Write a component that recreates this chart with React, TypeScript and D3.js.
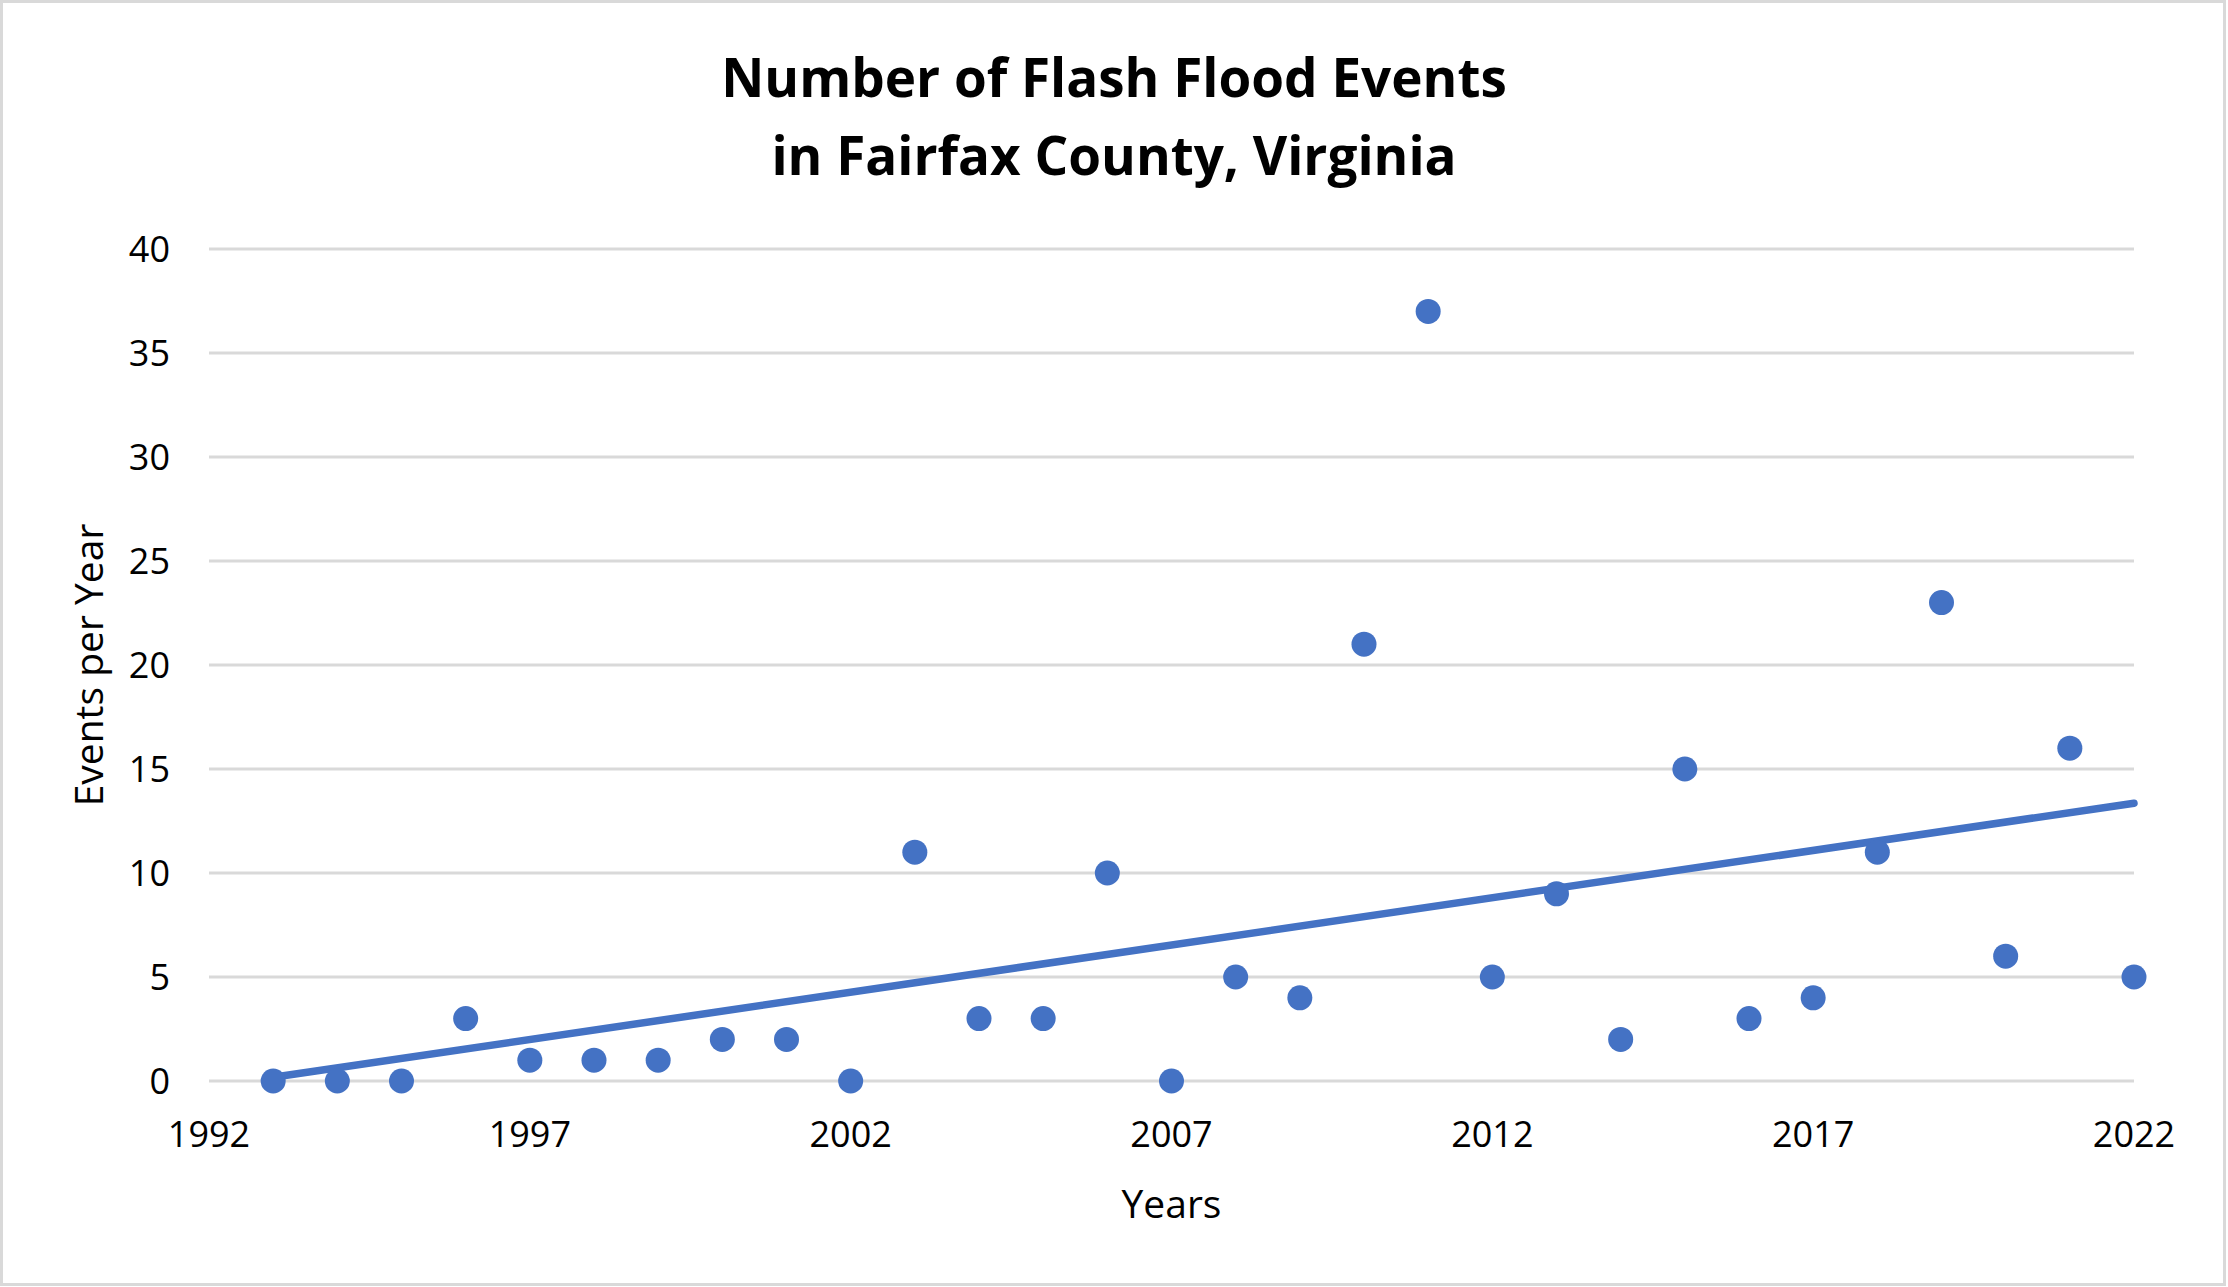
import { useEffect, useRef } from 'react';
import * as d3 from 'd3';

const years = [
  1993, 1994, 1995, 1996, 1997, 1998, 1999, 2000, 2001, 2002,
  2003, 2004, 2005, 2006, 2007, 2008, 2009, 2010, 2011, 2012,
  2013, 2014, 2015, 2016, 2017, 2018, 2019, 2020, 2021, 2022,
];
const events = [
  0, 0, 0, 3, 1, 1, 1, 2, 2, 0,
  11, 3, 3, 10, 0, 5, 4, 21, 37, 5,
  9, 2, 15, 3, 4, 11, 23, 6, 16, 5,
];
const xTicks = [1992, 1997, 2002, 2007, 2012, 2017, 2022];
const yTicks = [0, 5, 10, 15, 20, 25, 30, 35, 40];
const titleLines = ['Number of Flash Flood Events', 'in Fairfax County, Virginia'];

const W = 2228;
const H = 1287;
const BLUE = '#4472C4';
const GRID = '#d9d9d9';
const FONT = "'Open Sans', sans-serif";

const FloodChart = () => {
  const svgRef = useRef(null);

  useEffect(() => {
    document.body.style.margin = '0';
    const margin = { top: 249, right: 94, bottom: 206, left: 209 };
    const width = W - margin.left - margin.right;
    const height = H - margin.top - margin.bottom;

    const root = d3.select(svgRef.current);
    root.selectAll('*').remove();

    // 外框
    root
      .append('rect')
      .attr('x', 1.5)
      .attr('y', 1.5)
      .attr('width', W - 5)
      .attr('height', H - 4)
      .attr('fill', 'white')
      .attr('stroke', GRID)
      .attr('stroke-width', 3);

    // 標題（整張圖置中）
    root
      .append('text')
      .attr('text-anchor', 'middle')
      .attr('font-family', FONT)
      .attr('font-weight', 'bold')
      .attr('font-size', 53)
      .attr('fill', 'black')
      .selectAll('tspan')
      .data(titleLines)
      .join('tspan')
      .attr('x', W / 2)
      .attr('y', (d, i) => 97 + i * 78)
      .text((d) => d);

    const svg = root.append('g').attr('transform', `translate(${margin.left},${margin.top})`);

    const x = d3.scaleLinear().domain([1992, 2022]).range([0, width]);
    const y = d3.scaleLinear().domain([0, 40]).range([height, 0]);

    // 格線
    svg
      .selectAll('.grid')
      .data(yTicks)
      .join('line')
      .attr('class', 'grid')
      .attr('x1', 0)
      .attr('x2', width)
      .attr('y1', (d) => y(d))
      .attr('y2', (d) => y(d))
      .attr('stroke', GRID)
      .attr('stroke-width', 3);

    // Y 軸刻度
    svg
      .selectAll('.ylab')
      .data(yTicks)
      .join('text')
      .attr('class', 'ylab')
      .attr('x', -39)
      .attr('y', (d) => y(d))
      .attr('dy', '0.36em')
      .attr('text-anchor', 'end')
      .attr('font-family', FONT)
      .attr('font-size', 36)
      .attr('fill', 'black')
      .text((d) => d);

    // X 軸刻度
    svg
      .selectAll('.xlab')
      .data(xTicks)
      .join('text')
      .attr('class', 'xlab')
      .attr('x', (d) => x(d))
      .attr('y', height + 66)
      .attr('text-anchor', 'middle')
      .attr('font-family', FONT)
      .attr('font-size', 36)
      .attr('fill', 'black')
      .text((d) => d);

    // 軸標題
    svg
      .append('text')
      .attr('x', width / 2)
      .attr('y', height + 137)
      .attr('text-anchor', 'middle')
      .attr('font-family', FONT)
      .attr('font-size', 39)
      .attr('fill', 'black')
      .text('Years');

    svg
      .append('text')
      .attr('transform', `translate(${-209 + 103},${height / 2}) rotate(-90)`)
      .attr('text-anchor', 'middle')
      .attr('font-family', FONT)
      .attr('font-size', 39)
      .attr('fill', 'black')
      .text('Events per Year');

    // 線性趨勢線（最小平方法）
    const mx = d3.mean(years);
    const my = d3.mean(events);
    const sxy = d3.sum(years, (d, i) => (d - mx) * (events[i] - my));
    const sxx = d3.sum(years, (d) => (d - mx) ** 2);
    const slope = sxy / sxx;
    const icpt = my - slope * mx;
    const x0 = years[0];
    const x1 = years[years.length - 1];

    svg
      .append('line')
      .attr('x1', x(x0))
      .attr('y1', y(icpt + slope * x0))
      .attr('x2', x(x1))
      .attr('y2', y(icpt + slope * x1))
      .attr('stroke', BLUE)
      .attr('stroke-width', 7.5)
      .attr('stroke-linecap', 'round');

    // 散點
    svg
      .selectAll('.dot')
      .data(years)
      .join('circle')
      .attr('class', 'dot')
      .attr('cx', (d) => x(d))
      .attr('cy', (d, i) => y(events[i]))
      .attr('r', 12.5)
      .attr('fill', BLUE);
  }, []);

  return <svg ref={svgRef} width={W} height={H} style={{ display: 'block' }} />;
};

export default function App() {
  return <FloodChart />;
}
